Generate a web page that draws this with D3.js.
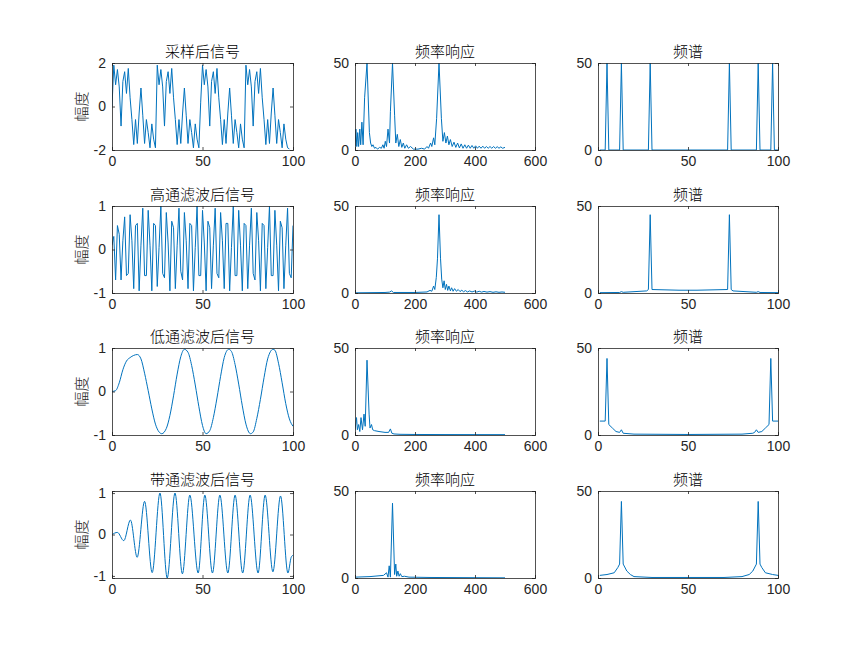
<![CDATA[<!DOCTYPE html>
<html><head><meta charset="utf-8">
<script src="https://cdn.jsdelivr.net/npm/d3@7"></script>
<style>body{margin:0;background:#fff;overflow:hidden}</style></head><body>
<svg id="c" width="865" height="649" style="display:block"></svg>
<script>
// ---------- data ----------
const colTitles = [["采样后信号","频率响应","频谱"],["高通滤波后信号","频率响应","频谱"],["低通滤波后信号","频率响应","频谱"],["带通滤波后信号","频率响应","频谱"]];
const yLabel = "幅度";
const timeTicks = [0,50,100];
const freqTicks = [0,200,400,600];
const ampTicks1 = [-2,0,2];
const ampTicks = [-1,0,1];
const magTicks = [0,50];

const sampled = [0,1.9,1.0,1.7,0.9,-0.9,1.15,1.6,0.6,1.75,0.4,-0.6,-1.75,-0.6,-1.7,-0.3,0.85,-0.4,-1.7,-0.6,-1.2,-1.9,-0.8,-1.5,-1.9,
 1.9,1.0,1.7,0.9,-0.9,1.15,1.6,0.6,1.75,0.4,-0.6,-1.75,-0.6,-1.7,-0.3,0.85,-0.4,-1.7,-0.6,-1.2,-1.9,-0.8,-1.5,-1.9,0.2,
 1.9,1.0,1.7,0.9,-0.9,1.15,1.6,0.6,1.75,0.4,-0.6,-1.75,-0.6,-1.7,-0.3,0.85,-0.4,-1.7,-0.6,-1.2,-1.9,-0.8,-1.5,-1.9,
 1.9,1.0,1.7,0.9,-0.9,1.15,1.6,0.6,1.75,0.4,-0.6,-1.75,-0.6,-1.7,-0.3,0.85,-0.4,-1.7,-0.6,-1.2,-1.9,-0.8,-1.5,-1.9,-1.95];

const highpass = [0.1,0.3,-0.7,0.55,0.35,-0.7,0.2,0.75,-0.6,-0.55,0.8,0.2,-0.9,0.55,0.6,-0.95,0.1,0.95,-0.6,-0.6,0.9,0.1,-0.95,0.6,0.55,
 -0.85,0.05,1.0,-0.55,-0.65,0.85,0.15,-0.95,0.65,0.5,-0.9,0.1,0.95,-0.5,-0.7,0.85,0.2,-0.9,0.6,0.55,-0.95,0.05,1.0,-0.6,-0.6,
 0.9,0.15,-0.95,0.65,0.5,-0.9,0.1,0.95,-0.55,-0.65,0.85,0.2,-0.9,0.6,0.6,-0.95,0.05,1.0,-0.6,-0.6,0.9,0.1,-0.95,0.6,0.55,
 -0.9,0.1,0.95,-0.55,-0.7,0.85,0.2,-0.95,0.6,0.55,-0.9,0.05,1.0,-0.6,-0.6,0.9,0.1,-0.95,0.65,0.5,-0.9,0.1,0.95,-0.55,-0.65,0.55];

const lowpass = [[0,0],[2,0.02],[4,0.2],[6,0.5],[8,0.7],[10,0.78],[12,0.83],[14,0.85],[16,0.75],[18,0.42],[20,0.02],[22,-0.4],[24,-0.75],[26,-0.93],[27.5,-0.97],[30,-0.85],[32,-0.55],[34,-0.1],[36,0.4],[38,0.8],[40,0.97],[42,0.9],[44,0.6],[46,0.15],[48,-0.35],[50,-0.78],[52,-0.97],[54,-0.9],[56,-0.6],[58,-0.15],[60,0.35],[62,0.78],[64.5,0.97],[66,0.92],[68,0.62],[70,0.17],[72,-0.33],[74,-0.75],[76.5,-0.97],[78,-0.93],[80,-0.62],[82,-0.18],[84,0.32],[86,0.75],[89,0.97],[90,0.95],[92,0.65],[94,0.2],[96,-0.28],[98,-0.63],[100,-0.8]];

const bandpass = [[0,0],[3,0.05],[6.5,-0.15],[10.2,0.35],[13.9,-0.55],[18,0.8],[22.2,-0.92],[26.5,1.0],[30.5,-1.05],[34.8,1.0],[38.9,-0.95],[43,0.95],[47.6,-0.93],[51.3,0.95],[55.5,-0.93],[59.6,0.95],[64,-0.93],[68,0.95],[72.2,-0.93],[76.3,0.95],[80.7,-0.93],[84.6,0.95],[88.9,-0.9],[93.1,0.93],[97.2,-0.93],[99,-0.55],[100,-0.5]];

const fr1 = [[0,2],[3,12],[6,2],[9,10],[12,2],[16,12],[19,3],[23,16],[27,3],[32,30],[40,50],[48,10],[52,4],[56,2],[60,3],[65,1],[70,1.5],[75,0.5],[82,1.5],[88,1],[93,3],[97,1],[101,5],[105,2],[110,12],[115,4],[118,22],[125,50],[132,20],[136,4],[141,9],[146,2],[151,6],[156,1.5],[161,4],[166,1],[172,3],[178,1],[185,2],[195,0.5],[210,0.5],[222,1],[232,0.5],[240,2],[245,1],[252,4],[256,2],[262,7],[266,3],[272,18],[280,50],[288,18],[293,5],[298,10],[303,4],[308,8],[313,3],[318,6],[324,2],[330,4.5],[336,1.5],[342,4],[348,1.2],[354,3.5],[360,1],[366,3],[372,1],[378,2.8],[384,1],[390,2.6],[396,1],[402,2.4],[408,1],[414,2.2],[420,1],[426,2.2],[432,1],[438,2],[444,1],[450,2],[456,1],[462,2],[468,1],[474,1.9],[480,1],[486,1.8],[492,1],[500,1.5]];
const fr2 = [[0,0.1],[100,0.3],[115,0.5],[122,1.2],[128,0.3],[200,0.3],[240,0.6],[250,1.5],[256,1],[262,4],[266,2],[271,9],[275,20],[280,45],[285,20],[289,8],[293,3],[297,7],[301,2],[305,5],[309,1.5],[313,4],[318,1.2],[322,3],[327,1],[332,2.5],[338,1],[344,2],[350,0.8],[356,1.6],[362,0.7],[368,1.4],[375,0.6],[382,1.2],[390,0.6],[398,1.1],[406,0.5],[414,1],[422,0.5],[430,0.9],[440,0.5],[450,0.8],[460,0.4],[470,0.7],[480,0.4],[490,0.6],[500,0.4]];
const fr3 = [[0,3],[5,10],[8,3],[12,6],[16,2],[20,10],[25,3],[30,12],[34,5],[40,43],[47,12],[50,4],[55,6],[59,3],[65,2.5],[80,2],[100,1.5],[112,1.5],[118,3.5],[123,1],[130,0.6],[150,0.4],[200,0.3],[300,0.25],[500,0.2]];
const fr4 = [[0,0.5],[50,0.8],[95,1.5],[105,3],[110,0.5],[114,7],[118,0.5],[125,43],[132,2],[136,8],[139,1],[143,4],[147,1],[151,2.5],[156,0.8],[165,1],[180,0.5],[250,0.3],[500,0.1]];

const sp1 = [[1,0],[4,0],[5,50],[6,0],[12,0],[13,50],[14,0],[28,0],[29,50],[30,0],[72,0],[73,50],[74,0],[88,0],[89,50],[90,0],[96,0],[97,50],[98,0],[100,0]];
const sp2 = [[1,0.2],[12,0.3],[13,0.8],[14,0.4],[27,1.2],[28,2],[29,45],[30,2],[45,1.6],[55,1.6],[72,2],[73,45],[74,2],[75,1.2],[88,0.4],[89,0.8],[90,0.3],[100,0.2]];
const sp3 = [[1,8],[4,8],[5,44],[6,6],[8,4],[10,2],[12,1.5],[13,3],[14,1],[20,0.5],[50,0.3],[80,0.5],[86,1],[87,1.5],[88,3],[89,1.5],[91,2],[93,4],[95,6],[96,44],[97,8],[100,8]];
const sp4 = [[1,1.5],[5,2],[9,3],[11,6],[12,8],[13,44],[14,8],[16,4],[18,2],[20,0.8],[30,0.3],[70,0.3],[80,0.8],[84,2],[86,4],[88,8],[89,44],[90,8],[91,6],[93,3],[97,2],[100,1.5]];

// ---------- drawing ----------
const svg = d3.select("#c");
const cols = [[112,293],[355,535],[598,778]];
const rows = [[63,150],[206,293],[348,435],[491,578]];
const blue = "#0072BD", axc = "#262626";
const font = "'Liberation Sans','Noto Sans CJK SC',Arial,sans-serif";
const cjk = "'Noto Sans CJK SC',sans-serif";

const timeSeries = [sampled.map((v,i)=>[i,v]), highpass.map((v,i)=>[i,v]), lowpass, bandpass];
const smooth = [false,false,true,true];
const frs = [fr1,fr2,fr3,fr4];
const sps = [sp1,sp2,sp3,sp4];

function panel(r,c,data,xd,yd,xt,yt,curve){
  const [x0,x1]=cols[c],[y0,y1]=rows[r];
  const x=d3.scaleLinear().domain(xd).range([x0,x1]);
  const y=d3.scaleLinear().domain(yd).range([y1,y0]);
  const fmt=d=>String(d);
  const g=svg.append("g");
  g.append("rect").attr("x",x0).attr("y",y0).attr("width",x1-x0).attr("height",y1-y0).attr("fill","#fff");
  const cp=`cp${r}${c}`;
  g.append("clipPath").attr("id",cp).append("rect").attr("x",x0).attr("y",y0-0.5).attr("width",x1-x0).attr("height",y1-y0+1);
  g.append("path").datum(data).attr("clip-path",`url(#${cp})`).attr("fill","none").attr("stroke",blue).attr("stroke-width",1)
    .attr("d",d3.line().x(d=>x(d[0])).y(d=>y(d[1])).curve(curve?d3.curveMonotoneX:d3.curveLinear));
  const tl=3;
  const bx=g.append("g").attr("transform",`translate(0,${y1})`).call(d3.axisBottom(x).tickValues(xt).tickSize(-tl).tickPadding(6).tickFormat(fmt));
  const tx=g.append("g").attr("transform",`translate(0,${y0})`).call(d3.axisTop(x).tickValues(xt).tickSize(-tl).tickFormat(""));
  const ly=g.append("g").attr("transform",`translate(${x0},0)`).call(d3.axisLeft(y).tickValues(yt).tickSize(-tl).tickPadding(6).tickFormat(fmt));
  const ry=g.append("g").attr("transform",`translate(${x1},0)`).call(d3.axisRight(y).tickValues(yt).tickSize(-tl).tickFormat(""));
  [bx,tx,ly,ry].forEach(a=>{a.selectAll("path").attr("stroke",axc).attr("stroke-width",0.8);
    a.selectAll("line").attr("stroke",axc).attr("stroke-width",0.8);
    a.selectAll("text").attr("fill",axc).style("font-family",font).style("font-size","14px");});
  g.append("text").attr("x",(x0+x1)/2).attr("y",y0-6).attr("text-anchor","middle").attr("fill","#000")
    .style("font-family",cjk).style("font-size","15px").style("font-weight","300").text(colTitles[r][c]);
  if(c===0) g.append("text").attr("transform",`translate(${x0-25},${(y0+y1)/2}) rotate(-90)`).attr("text-anchor","middle")
    .attr("fill",axc).style("font-family",cjk).style("font-size","15px").style("font-weight","300").text(yLabel);
}
for(let r=0;r<4;r++){
  const yd = r===0?[-2,2]:(r===3?[-1.05,1.05]:[-1,1]);
  panel(r,0,timeSeries[r],[0,100],yd,timeTicks,r===0?ampTicks1:ampTicks,smooth[r]);
  panel(r,1,frs[r],[0,600],[0,50],freqTicks,magTicks,false);
  panel(r,2,sps[r],[0,100],[0,50],timeTicks,magTicks,false);
}
</script></body></html>]]>
